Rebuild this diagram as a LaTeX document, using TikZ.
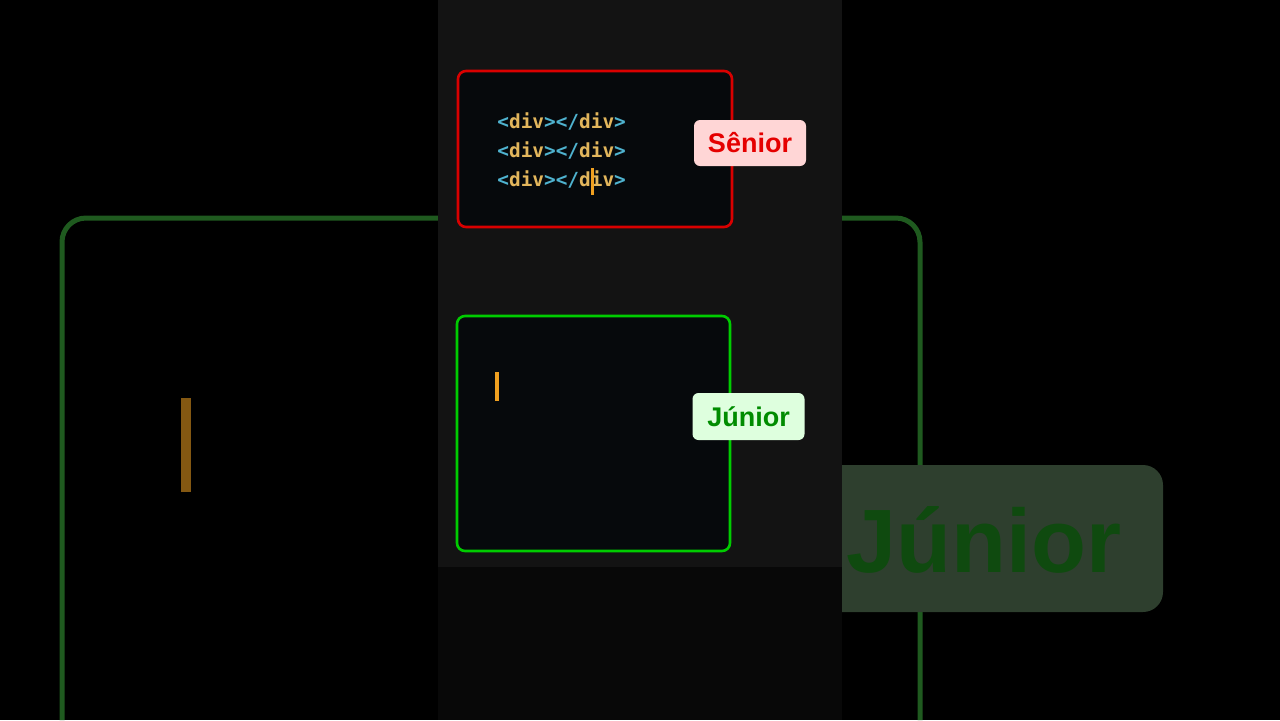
\documentclass[tikz,border=0pt]{standalone}
\usepackage{fontspec}
\setmainfont{Liberation Sans}
\newfontfamily\codefont{DejaVu Sans Mono}
\definecolor{tagc}{HTML}{4FB3D0}
\definecolor{namec}{HTML}{E2B65C}
\definecolor{curc}{HTML}{F0A020}
\definecolor{boxbg}{HTML}{06090C}
\definecolor{strip}{HTML}{131313}
\definecolor{dimgreen}{HTML}{1F5A1F}
\definecolor{bigbox}{HTML}{2E3F2E}
\definecolor{bigtext}{HTML}{0F4A0F}
\tikzset{
 codebox/.style={rounded corners=4pt, line width=1.3pt, fill=boxbg},
 tag/.style={rounded corners=3pt, font=\bfseries\fontsize{13.5}{15}\selectfont, inner sep=0pt},
 code/.style={anchor=west, inner sep=0pt, font=\codefont\bfseries\fontsize{9.7}{11}\selectfont},
}
\newcommand{\tg}[1]{\textcolor{tagc}{#1}}
\newcommand{\nm}[1]{\textcolor{namec}{#1}}
\begin{document}
\begin{tikzpicture}[x=0.5pt,y=-0.5pt]
\useasboundingbox (0,0) rectangle (1280,720);
\fill[black] (0,0) rectangle (1280,720);
% blurred side background
\draw[dimgreen, line width=2.5pt, rounded corners=12pt] (438,218) -- (62,218) -- (62,720);
\fill[curc!55!black] (181,398) rectangle (191,492);
\draw[dimgreen, line width=2.5pt, rounded corners=12pt] (842,218) -- (920,218) -- (920,720);
\fill[bigbox] (842,465) [rounded corners=10pt] -- (1163,465) -- (1163,612) [sharp corners] -- (842,612) -- cycle;
\begin{scope}
\clip (842,400) rectangle (1280,700);
\node[font=\bfseries\fontsize{45}{50}\selectfont, text=bigtext, anchor=west, inner sep=0pt] (bigj) at (846,540) {Júnior};
\end{scope}
% center strip
\fill[strip] (438,0) rectangle (842,567);
\fill[black!97] (438,567) rectangle (842,720);
% senior box
\draw[codebox, draw=red!85!black] (458,71) rectangle (732,227);
\node[code] (l1) at (497,122) {\tg{<}\nm{div}\tg{></}\nm{div}\tg{>}};
\node[code] (l2) at (497,151) {\tg{<}\nm{div}\tg{></}\nm{div}\tg{>}};
\node[code] (l3) at (497,180) {\tg{<}\nm{div}\tg{></}\nm{div}\tg{>}};
\fill[curc] (590.5,168) rectangle (594,195);
\node[tag, fill=red!16, text=red!90!black, minimum width=56pt, minimum height=23pt] (sen) at (750,143) {Sênior};
% junior box
\draw[codebox, draw=green!80!black] (457,316) rectangle (730,551);
\fill[curc] (495,372) rectangle (498.5,401);
\node[tag, fill=green!13, text=green!55!black, minimum width=56pt, minimum height=23.5pt] (jun) at (748.5,416.5) {Júnior};
\end{tikzpicture}
\end{document}
